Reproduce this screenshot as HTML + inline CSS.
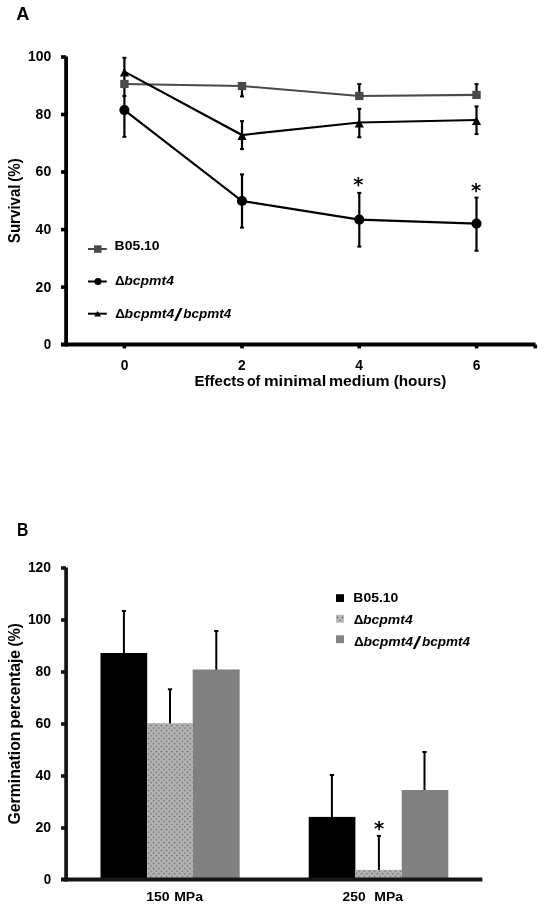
<!DOCTYPE html>
<html lang="en"><head><meta charset="utf-8"><title>Figure</title>
<style>html,body{margin:0;padding:0;background:#fff}svg{display:block}text{font-family:"Liberation Sans",sans-serif;font-weight:bold;fill:#000}.bi{font-style:italic}</style></head><body>
<svg width="550" height="908" viewBox="0 0 550 908">
<defs><pattern id="dots" x="147.1" y="877.6" width="5.2" height="5.2" patternUnits="userSpaceOnUse"><rect width="5.2" height="5.2" fill="#b3b3b3"/><rect x="0.7" y="0.7" width="1.3" height="1.3" fill="#5e5e5e"/><rect x="3.3" y="3.3" width="1.3" height="1.3" fill="#5e5e5e"/></pattern></defs>
<rect width="550" height="908" fill="#fff"/>
<text y="19.9" font-size="17.5"><tspan x="16.38" textLength="13.16" lengthAdjust="spacingAndGlyphs">A</tspan></text>
<g stroke="#000" fill="none">
<line x1="66.1" y1="56.6" x2="66.1" y2="346.6" stroke-width="3.8"/>
<line x1="61" y1="344.6" x2="535.5" y2="344.6" stroke-width="4"/>
<line x1="61" y1="287.1" x2="66" y2="287.1" stroke-width="3.6"/>
<line x1="61" y1="229.6" x2="66" y2="229.6" stroke-width="3.6"/>
<line x1="61" y1="172.0" x2="66" y2="172.0" stroke-width="3.6"/>
<line x1="61" y1="114.5" x2="66" y2="114.5" stroke-width="3.6"/>
<line x1="61" y1="57.0" x2="66" y2="57.0" stroke-width="3.6"/>
<line x1="124.4" y1="344.6" x2="124.4" y2="348.4" stroke-width="3.6"/>
<line x1="242.0" y1="344.6" x2="242.0" y2="348.4" stroke-width="3.6"/>
<line x1="359.2" y1="344.6" x2="359.2" y2="348.4" stroke-width="3.6"/>
<line x1="476.6" y1="344.6" x2="476.6" y2="348.4" stroke-width="3.6"/>
<line x1="535.3" y1="344.6" x2="535.3" y2="348.4" stroke-width="3.6"/>
</g>
<text x="43.8" y="349.0" font-size="14" textLength="7.4" lengthAdjust="spacingAndGlyphs">0</text>
<text x="35.6" y="291.5" font-size="14" textLength="15.6" lengthAdjust="spacingAndGlyphs">20</text>
<text x="35.6" y="234.0" font-size="14" textLength="15.6" lengthAdjust="spacingAndGlyphs">40</text>
<text x="35.6" y="176.4" font-size="14" textLength="15.6" lengthAdjust="spacingAndGlyphs">60</text>
<text x="35.6" y="118.9" font-size="14" textLength="15.6" lengthAdjust="spacingAndGlyphs">80</text>
<text x="28.0" y="61.4" font-size="14" textLength="23.2" lengthAdjust="spacingAndGlyphs">100</text>
<text x="124.7" y="370" font-size="14" text-anchor="middle" textLength="7.7" lengthAdjust="spacingAndGlyphs">0</text>
<text x="241.8" y="370" font-size="14" text-anchor="middle" textLength="7.7" lengthAdjust="spacingAndGlyphs">2</text>
<text x="359.0" y="370" font-size="14" text-anchor="middle" textLength="7.7" lengthAdjust="spacingAndGlyphs">4</text>
<text x="476.6" y="370" font-size="14" text-anchor="middle" textLength="7.7" lengthAdjust="spacingAndGlyphs">6</text>
<text y="386" font-size="15.4"><tspan x="194.62" textLength="50.06" lengthAdjust="spacingAndGlyphs">Effects</tspan> <tspan x="247.03" textLength="13.29" lengthAdjust="spacingAndGlyphs">of</tspan> <tspan x="263.93" textLength="62.33" lengthAdjust="spacingAndGlyphs">minimal</tspan> <tspan x="328.97" textLength="60.67" lengthAdjust="spacingAndGlyphs">medium</tspan> <tspan x="393.65" textLength="52.71" lengthAdjust="spacingAndGlyphs">(hours)</tspan></text>
<text transform="translate(20.3 0) rotate(-90)" font-size="16.2"><tspan x="-243.17" textLength="58.71" lengthAdjust="spacingAndGlyphs">Survival</tspan> <tspan x="-181.70" textLength="23.46" lengthAdjust="spacingAndGlyphs">(%)</tspan></text>
<g>
<line x1="124.4" y1="57.8" x2="124.4" y2="136.8" stroke="#000" stroke-width="2.2"/><rect x="122.4" y="56.8" width="4" height="2" fill="#000"/><rect x="122.4" y="95.0" width="4" height="2" fill="#000"/><rect x="122.4" y="135.8" width="4" height="2" fill="#000"/>
<line x1="242.0" y1="86.0" x2="242.0" y2="96.4" stroke="#000" stroke-width="2.2"/><rect x="240.0" y="95.4" width="4" height="2" fill="#000"/>
<line x1="242.0" y1="121.1" x2="242.0" y2="149.1" stroke="#000" stroke-width="2.2"/><rect x="240.0" y="120.1" width="4" height="2" fill="#000"/><rect x="240.0" y="148.1" width="4" height="2" fill="#000"/>
<line x1="242.0" y1="174.4" x2="242.0" y2="227.6" stroke="#000" stroke-width="2.2"/><rect x="240.0" y="173.4" width="4" height="2" fill="#000"/><rect x="240.0" y="226.6" width="4" height="2" fill="#000"/>
<line x1="359.3" y1="84.1" x2="359.3" y2="96.0" stroke="#000" stroke-width="2.2"/><rect x="357.3" y="83.1" width="4" height="2" fill="#000"/>
<line x1="359.3" y1="108.8" x2="359.3" y2="137.3" stroke="#000" stroke-width="2.2"/><rect x="357.3" y="107.8" width="4" height="2" fill="#000"/><rect x="357.3" y="136.3" width="4" height="2" fill="#000"/>
<line x1="359.3" y1="192.9" x2="359.3" y2="246.6" stroke="#000" stroke-width="2.2"/><rect x="357.3" y="191.9" width="4" height="2" fill="#000"/><rect x="357.3" y="245.6" width="4" height="2" fill="#000"/>
<line x1="476.5" y1="84.1" x2="476.5" y2="94.0" stroke="#000" stroke-width="2.2"/><rect x="474.5" y="83.1" width="4" height="2" fill="#000"/>
<line x1="476.5" y1="106.4" x2="476.5" y2="134.1" stroke="#000" stroke-width="2.2"/><rect x="474.5" y="105.4" width="4" height="2" fill="#000"/><rect x="474.5" y="133.1" width="4" height="2" fill="#000"/>
<line x1="476.5" y1="197.6" x2="476.5" y2="250.8" stroke="#000" stroke-width="2.2"/><rect x="474.5" y="196.6" width="4" height="2" fill="#000"/><rect x="474.5" y="249.8" width="4" height="2" fill="#000"/>
</g>
<polyline points="124.4,84.0 242.0,86.0 359.3,96.0 476.5,94.9" fill="none" stroke="#4a4a4a" stroke-width="2.1"/>
<polyline points="124.4,71.6 242.0,135.0 359.3,122.5 476.5,120.0" fill="none" stroke="#000" stroke-width="2.2"/>
<polyline points="124.4,110.1 242.0,201.0 359.3,219.6 476.5,223.6" fill="none" stroke="#000" stroke-width="2.2"/>
<rect x="120.2" y="79.9" width="8.4" height="8.2" fill="#4a4a4a"/>
<rect x="237.8" y="81.9" width="8.4" height="8.2" fill="#4a4a4a"/>
<rect x="355.1" y="91.9" width="8.4" height="8.2" fill="#4a4a4a"/>
<rect x="472.3" y="90.8" width="8.4" height="8.2" fill="#4a4a4a"/>
<polygon points="124.4,68.0 119.8,76.5 129.0,76.5" fill="#000"/>
<polygon points="242.0,131.4 237.4,139.9 246.6,139.9" fill="#000"/>
<polygon points="359.3,118.9 354.7,127.4 363.9,127.4" fill="#000"/>
<polygon points="476.5,116.4 471.9,124.9 481.1,124.9" fill="#000"/>
<circle cx="124.4" cy="110.1" r="5.1" fill="#000"/>
<circle cx="242.0" cy="201.0" r="5.1" fill="#000"/>
<circle cx="359.3" cy="219.6" r="5.1" fill="#000"/>
<circle cx="476.5" cy="223.6" r="5.1" fill="#000"/>
<text x="358.4" y="191.1" font-size="19.5" text-anchor="middle" style="font-family:'DejaVu Sans',sans-serif">*</text>
<text x="476" y="196.8" font-size="19.5" text-anchor="middle" style="font-family:'DejaVu Sans',sans-serif">*</text>
<line x1="88" y1="249" x2="106.8" y2="249" stroke="#4a4a4a" stroke-width="2"/>
<rect x="94" y="245.3" width="7.5" height="7.5" fill="#4a4a4a"/>
<line x1="88" y1="281.5" x2="106.8" y2="281.5" stroke="#000" stroke-width="2"/>
<circle cx="98" cy="281.5" r="3.6" fill="#000"/>
<line x1="88" y1="313.7" x2="106.8" y2="313.7" stroke="#000" stroke-width="2"/>
<polygon points="97.6,311 94.2,316.6 101,316.6" fill="#000"/>
<text y="250.3" font-size="13"><tspan x="114.56" textLength="45.03" lengthAdjust="spacingAndGlyphs">B05.10</tspan></text>
<text y="284.8" font-size="13"><tspan x="114.98" textLength="9.63" lengthAdjust="spacingAndGlyphs">Δ</tspan><tspan class="bi" x="124.23" textLength="49.72" lengthAdjust="spacingAndGlyphs">bcpmt4</tspan></text>
<text y="317.8" font-size="13"><tspan x="115.28" textLength="9.74" lengthAdjust="spacingAndGlyphs">Δ</tspan><tspan class="bi" x="124.63" textLength="49.62" lengthAdjust="spacingAndGlyphs">bcpmt4</tspan><tspan font-size="17.5" dy="3.3" class="bi" x="174.77" textLength="5.99" lengthAdjust="spacingAndGlyphs">/</tspan><tspan dy="-3.3" class="bi" x="183.24" textLength="48.00" lengthAdjust="spacingAndGlyphs">bcpmt4</tspan></text>
<text y="535.6" font-size="17.5"><tspan x="17.08" textLength="11.41" lengthAdjust="spacingAndGlyphs">B</tspan></text>
<line x1="123.9" y1="611.0" x2="123.9" y2="654.0" stroke="#000" stroke-width="2"/>
<rect x="121.8" y="610.0" width="4.2" height="2" fill="#000"/>
<line x1="170.0" y1="689.3" x2="170.0" y2="724.0" stroke="#000" stroke-width="2"/>
<rect x="167.9" y="688.3" width="4.2" height="2" fill="#000"/>
<line x1="216.3" y1="631.0" x2="216.3" y2="670.0" stroke="#000" stroke-width="2"/>
<rect x="214.2" y="630.0" width="4.2" height="2" fill="#000"/>
<line x1="331.9" y1="775.0" x2="331.9" y2="818.0" stroke="#000" stroke-width="2"/>
<rect x="329.8" y="774.0" width="4.2" height="2" fill="#000"/>
<line x1="378.9" y1="835.9" x2="378.9" y2="871.0" stroke="#000" stroke-width="2"/>
<rect x="376.8" y="834.9" width="4.2" height="2" fill="#000"/>
<line x1="424.5" y1="752.0" x2="424.5" y2="791.0" stroke="#000" stroke-width="2"/>
<rect x="422.4" y="751.0" width="4.2" height="2" fill="#000"/>
<rect x="100.5" y="653.0" width="46.7" height="225.0" fill="#000"/>
<rect x="147.2" y="723.2" width="45.5" height="154.8" fill="url(#dots)"/>
<rect x="192.7" y="669.5" width="47.0" height="208.5" fill="#808080"/>
<rect x="308.7" y="816.9" width="46.7" height="61.1" fill="#000"/>
<rect x="355.4" y="869.9" width="46.3" height="8.1" fill="url(#dots)"/>
<rect x="401.7" y="790.0" width="46.6" height="88.0" fill="#808080"/>
<g stroke="#151515" fill="none">
<line x1="66.1" y1="567.6" x2="66.1" y2="881.6" stroke-width="3.7"/>
<line x1="61" y1="879.5" x2="482.4" y2="879.5" stroke-width="4.1"/>
<line x1="61" y1="828.0" x2="66" y2="828.0" stroke-width="3.6"/>
<line x1="61" y1="776.0" x2="66" y2="776.0" stroke-width="3.6"/>
<line x1="61" y1="724.0" x2="66" y2="724.0" stroke-width="3.6"/>
<line x1="61" y1="672.0" x2="66" y2="672.0" stroke-width="3.6"/>
<line x1="61" y1="620.0" x2="66" y2="620.0" stroke-width="3.6"/>
<line x1="61" y1="568.0" x2="66" y2="568.0" stroke-width="3.6"/>
</g>
<text x="43.7" y="884.4" font-size="14" textLength="7.4" lengthAdjust="spacingAndGlyphs">0</text>
<text x="35.5" y="832.4" font-size="14" textLength="15.6" lengthAdjust="spacingAndGlyphs">20</text>
<text x="35.5" y="780.4" font-size="14" textLength="15.6" lengthAdjust="spacingAndGlyphs">40</text>
<text x="35.5" y="728.4" font-size="14" textLength="15.6" lengthAdjust="spacingAndGlyphs">60</text>
<text x="35.5" y="676.4" font-size="14" textLength="15.6" lengthAdjust="spacingAndGlyphs">80</text>
<text x="27.9" y="624.4" font-size="14" textLength="23.2" lengthAdjust="spacingAndGlyphs">100</text>
<text x="27.9" y="572.4" font-size="14" textLength="23.2" lengthAdjust="spacingAndGlyphs">120</text>
<text transform="translate(20.3 0) rotate(-90)" font-size="16.2"><tspan x="-824.41" textLength="92.85" lengthAdjust="spacingAndGlyphs">Germination</tspan> <tspan x="-728.39" textLength="78.48" lengthAdjust="spacingAndGlyphs">percentaje</tspan> <tspan x="-646.49" textLength="23.24" lengthAdjust="spacingAndGlyphs">(%)</tspan></text>
<text y="901.1" font-size="13.3"><tspan x="146.17" textLength="23.52" lengthAdjust="spacingAndGlyphs">150</tspan> <tspan x="174.18" textLength="28.89" lengthAdjust="spacingAndGlyphs">MPa</tspan></text>
<text y="901.1" font-size="13.3"><tspan x="342.58" textLength="23.11" lengthAdjust="spacingAndGlyphs">250</tspan>  <tspan x="374.38" textLength="28.79" lengthAdjust="spacingAndGlyphs">MPa</tspan></text>
<text x="379" y="835.2" font-size="19.5" text-anchor="middle" style="font-family:'DejaVu Sans',sans-serif">*</text>
<rect x="336" y="594.2" width="8" height="7.8" fill="#000"/>
<rect x="336" y="614.8" width="8" height="7.9" fill="#b8b8b8"/><rect x="337" y="616.9" width="1.2" height="1.2" fill="#555"/><rect x="341.9" y="616.9" width="1.2" height="1.2" fill="#555"/><rect x="339.4" y="619.6" width="1.2" height="1.2" fill="#555"/>
<rect x="336" y="635.3" width="8" height="7.9" fill="#858585"/>
<text y="602" font-size="13"><tspan x="353.36" textLength="45.03" lengthAdjust="spacingAndGlyphs">B05.10</tspan></text>
<text y="624" font-size="13"><tspan x="353.78" textLength="9.63" lengthAdjust="spacingAndGlyphs">Δ</tspan><tspan class="bi" x="363.03" textLength="49.72" lengthAdjust="spacingAndGlyphs">bcpmt4</tspan></text>
<text y="646" font-size="13"><tspan x="354.08" textLength="9.74" lengthAdjust="spacingAndGlyphs">Δ</tspan><tspan class="bi" x="363.43" textLength="49.62" lengthAdjust="spacingAndGlyphs">bcpmt4</tspan><tspan font-size="17.5" dy="3.3" class="bi" x="413.57" textLength="5.99" lengthAdjust="spacingAndGlyphs">/</tspan><tspan dy="-3.3" class="bi" x="422.04" textLength="48.00" lengthAdjust="spacingAndGlyphs">bcpmt4</tspan></text>
</svg></body></html>
